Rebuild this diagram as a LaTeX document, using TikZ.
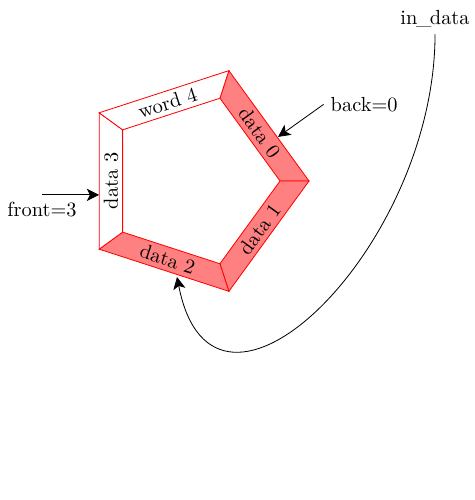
\documentclass[tikz,border=0pt]{standalone}
\usetikzlibrary{arrows.meta}
\tikzset{
  seg/.style={draw=red,line join=miter},
  arr/.style={-{Stealth[length=6pt,width=6pt,inset=1.5pt]}},
}
\begin{document}
\begin{tikzpicture}
\useasboundingbox (-3.328,-5.5) rectangle (4.845,3.12);
\foreach \i/\f/\t/\r in {0/red!50/data 0/-54,1/red!50/data 1/54,2/red!50/data 2/-18,3/white/data 3/90,4/white/word 4/18} {
  \pgfmathsetmacro{\a}{-72*(\i-1)}
  \pgfmathsetmacro{\b}{-72*\i}
  \draw[seg,fill=\f] (\a:2) -- (\b:2) -- (\b:1.5) -- (\a:1.5) -- cycle;
  \node[rotate=\r] (seg\i) at ({(\a+\b)/2}:1.416) {\t};
}
\coordinate (backend) at (1.466,0.76);
\coordinate (frontend) at (-1.62,-0.24);
\coordinate (inend) at (-0.276,-1.655);
\node (back) at (2.95,1.32) {back=0};
\node[anchor=north] (front) at (-2.603,-0.24) {front=3};
\node (indata) at (4.172,2.8) {in\kern-.7pt\_\kern-.7pt data};
\draw[arr] (back.west) -- (backend);
\draw[arr] (front.north) -- (frontend);
\draw[arr] (indata.south) .. controls +(-90:3.7) and +(-79:3.3) .. (inend);
\end{tikzpicture}
\end{document}
